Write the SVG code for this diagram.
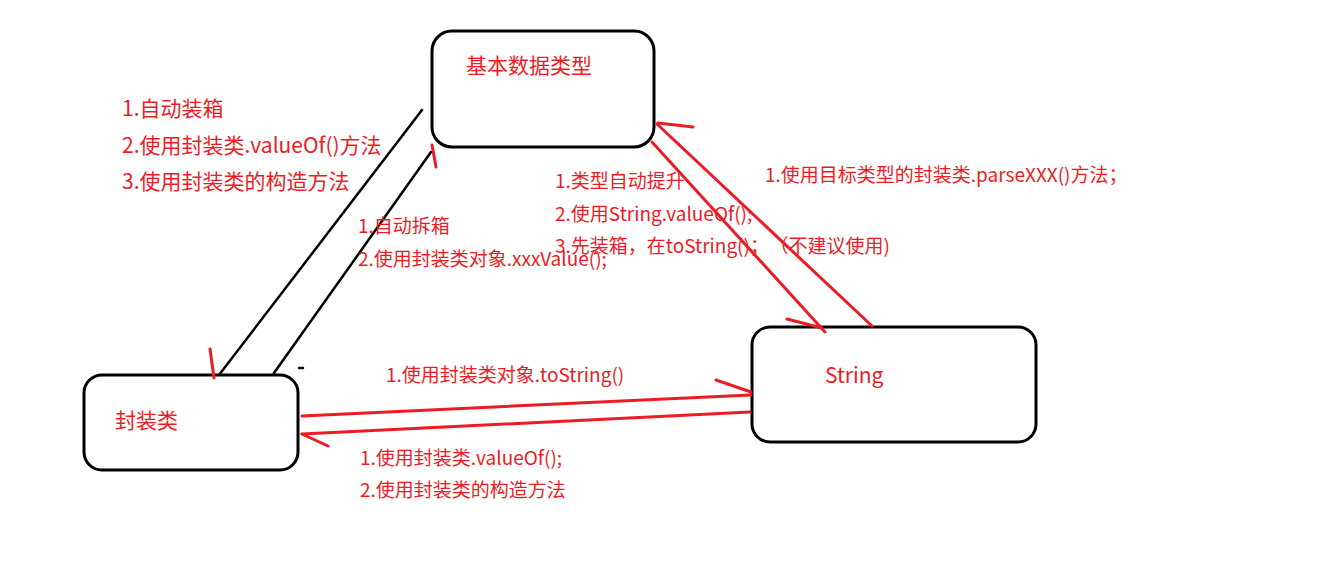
<svg xmlns="http://www.w3.org/2000/svg" width="1341" height="573" viewBox="0 0 1341 573">
<style>
.box{fill:#fff;stroke:#000;stroke-width:3}
.blk{stroke:#000;stroke-width:2.5;fill:none;stroke-linecap:round}
.red{stroke:#ED1C24;stroke-width:3;fill:none;stroke-linecap:round}
text{fill:#ED1C24;font-family:"Noto Sans CJK SC","Microsoft YaHei",sans-serif}
.t21{font-size:21px}
.t19{font-size:19px}
</style>
<rect width="1341" height="573" fill="#fff"/>
<g id="node-basic">
<rect class="box" x="432" y="31" width="222" height="116" rx="20"/>
<text class="t21" x="466" y="73">基本数据类型</text>
</g>
<g id="node-wrapper">
<rect class="box" x="84" y="375" width="214" height="95" rx="18"/>
<text class="t21" x="115" y="428">封装类</text>
</g>
<g id="node-string">
<rect class="box" x="752" y="327" width="284" height="115" rx="18"/>
<text class="t21" x="825" y="383">String</text>
</g>
<g id="connectors">
<line class="blk" x1="422" y1="110" x2="219" y2="375"/>
<line class="red" x1="210" y1="349" x2="214" y2="378"/>
<line class="blk" x1="431" y1="152" x2="274" y2="373"/>
<line class="red" x1="432" y1="145" x2="436" y2="167"/>
<line class="blk" x1="299" y1="368" x2="303" y2="368"/>
<line class="red" x1="652" y1="142" x2="825" y2="332"/>
<line class="red" x1="787" y1="319" x2="822" y2="328"/>
<line class="red" x1="872" y1="326" x2="657" y2="124"/>
<line class="red" x1="658" y1="123" x2="693" y2="127"/>
<line class="red" x1="302" y1="416" x2="751" y2="395"/>
<line class="red" x1="716" y1="380" x2="751" y2="392"/>
<line class="red" x1="750" y1="412" x2="302" y2="434"/>
<line class="red" x1="302" y1="434" x2="328" y2="446"/>
</g>
<g id="labels">
<text class="t21" x="122" y="116">1.自动装箱</text>
<text class="t21" x="122" y="153">2.使用封装类.valueOf()方法</text>
<text class="t21" x="122" y="189">3.使用封装类的构造方法</text>
<text class="t19" x="358" y="233">1.自动拆箱</text>
<text class="t19" x="358" y="266">2.使用封装类对象.xxxValue();</text>
<text class="t19" x="555" y="188">1.类型自动提升</text>
<text class="t19" x="555" y="221">2.使用String.valueOf();</text>
<text class="t19" x="555" y="253">3.先装箱，在toString()；<tspan dx="10">（不建议使用)</tspan></text>
<text class="t19" x="765" y="182">1.使用目标类型的封装类.parseXXX()方法；</text>
<text class="t19" x="386" y="382">1.使用封装类对象.toString()</text>
<text class="t19" x="360" y="465">1.使用封装类.valueOf();</text>
<text class="t19" x="360" y="497">2.使用封装类的构造方法</text>
</g>
</svg>
